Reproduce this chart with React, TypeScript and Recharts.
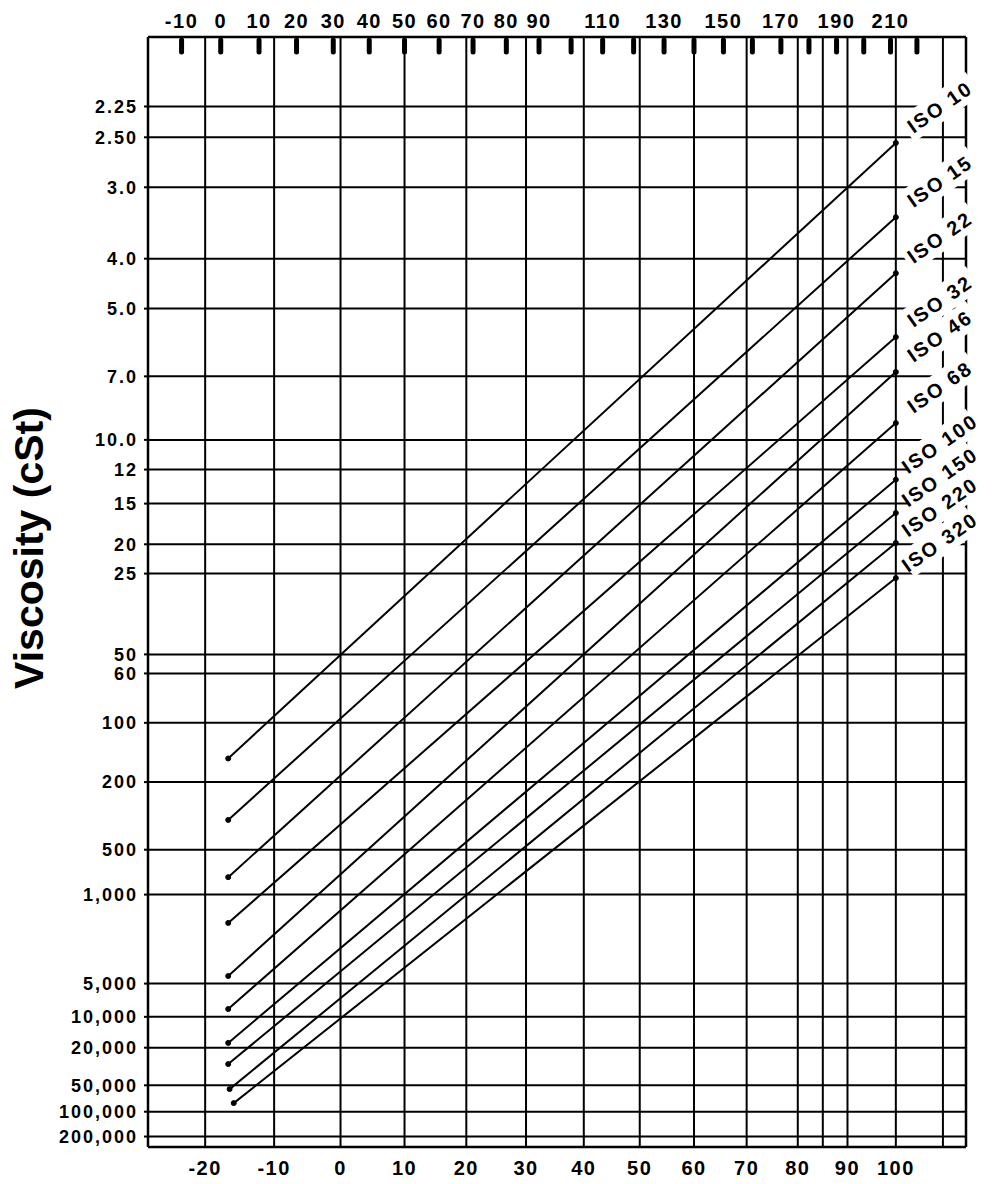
import React from 'react';
import {
  LineChart,
  Line,
  XAxis,
  YAxis,
  CartesianGrid,
  LabelList,
} from 'recharts';

// ASTM D341 viscosity-temperature chart:
// x = log10(T in kelvin), y = log10(log10(cSt + 0.7)), viscosity grows downwards
const toX = (c: number) => Math.log10(c + 273.15);
const toY = (cst: number) => Math.log10(Math.log10(cst + 0.7));
const fToC = (f: number) => ((f - 32) * 5) / 9;

const FONT = "'Liberation Sans', Arial, Helvetica, sans-serif";

const TEMP_RANGE_C = [-28, 115];
const VISC_RANGE = [1.806, 271000];

// bottom axis, deg C (85 and 110 are unlabelled grid lines)
const C_TICKS = [-20, -10, 0, 10, 20, 30, 40, 50, 60, 70, 80, 85, 90, 100, 110];
const C_LABELS = ['-20', '-10', '0', '10', '20', '30', '40', '50', '60', '70', '80', '', '90', '100', ''];

// top axis, deg F
const F_TICKS = [-10, 0, 10, 20, 30, 40, 50, 60, 70, 80, 90, 100, 110, 120, 130, 140, 150, 160, 170, 180, 190, 200, 210, 220];
const F_LABELS = ['-10', '0', '10', '20', '30', '40', '50', '60', '70', '80', '90', '', '110', '', '130', '', '150', '', '170', '', '190', '', '210', ''];

const VISC_TICKS = [2.25, 2.5, 3, 4, 5, 7, 10, 12, 15, 20, 25, 50, 60, 100, 200, 500, 1000, 5000, 10000, 20000, 50000, 100000, 200000];
const VISC_LABELS = ['2.25', '2.50', '3.0', '4.0', '5.0', '7.0', '10.0', '12', '15', '20', '25', '50', '60', '100', '200', '500', '1,000', '5,000', '10,000', '20,000', '50,000', '100,000', '200,000'];

// ISO grades: start point (cold end) and end point at 100 C
const GRADES = ['ISO 10', 'ISO 15', 'ISO 22', 'ISO 32', 'ISO 46', 'ISO 68', 'ISO 100', 'ISO 150', 'ISO 220', 'ISO 320'];
const START_TEMP = [-16.7, -16.7, -16.7, -16.7, -16.7, -16.7, -16.7, -16.7, -16.5, -15.9];
const START_VISC = [150, 328, 757, 1610, 4300, 8460, 17900, 29500, 55100, 79400];
const END_TEMP = [100, 100, 100, 100, 100, 100, 100, 100, 100, 100];
const END_VISC = [2.55, 3.37, 4.26, 5.73, 6.84, 9.06, 12.8, 16.0, 19.8, 25.9];

const xDomain = [toX(TEMP_RANGE_C[0]), toX(TEMP_RANGE_C[1])];
const yDomain = [toY(VISC_RANGE[0]), toY(VISC_RANGE[1])];

const series = GRADES.map((name, i) => ({
  name,
  data: [
    { x: toX(START_TEMP[i]), y: toY(START_VISC[i]) },
    { x: toX(END_TEMP[i]), y: toY(END_VISC[i]) },
  ],
}));

const tickText = {
  fontFamily: FONT,
  fontWeight: 700,
  fontSize: 20,
  fill: '#000',
  letterSpacing: 1.5,
};

const yTickText = { ...tickText, fontSize: 18, letterSpacing: 2 };

function TopTick(props: any) {
  const { x, y, payload, index } = props;
  const i = payload?.index ?? index;
  const label = F_LABELS[i] ?? '';
  return (
    <g>
      {label && (
        <text x={x} y={y - 9} textAnchor="middle" style={tickText}>
          {label}
        </text>
      )}
      <line x1={x} y1={y + 3} x2={x} y2={y + 15} stroke="#000" strokeWidth={5} strokeLinecap="round" />
    </g>
  );
}

function isoLabel(name: string) {
  return (props: any) => {
    if (props.index !== 1) return null;
    const cx = props.x + 44;
    const cy = props.y - 36;
    return (
      <g transform={`rotate(-35 ${cx} ${cy})`}>
        <rect x={cx - 41} y={cy - 14} width={82} height={28} fill="#fff" />
        <text
          x={cx}
          y={cy}
          textAnchor="middle"
          dominantBaseline="central"
          style={{ ...tickText, letterSpacing: 2 }}
        >
          {name}
        </text>
      </g>
    );
  };
}

export default function App() {
  return (
    <div style={{ position: 'absolute', left: 0, top: 0, width: 1004, height: 1184, background: '#fff' }}>
      <LineChart width={1004} height={1184} margin={{ top: 0, right: 0, bottom: 0, left: 0 }}>
        <CartesianGrid stroke="#000" strokeWidth={2} fill="none" />
        <XAxis
          type="number"
          dataKey="x"
          domain={xDomain}
          allowDataOverflow
          ticks={C_TICKS.map(toX)}
          interval={0}
          tickFormatter={(v, i) => C_LABELS[i] ?? ''}
          height={37}
          tickSize={0}
          tickMargin={14}
          tick={tickText}
          axisLine={{ stroke: '#000', strokeWidth: 2.5 }}
        />
        <XAxis
          xAxisId="top"
          orientation="top"
          type="number"
          dataKey="x"
          domain={xDomain}
          allowDataOverflow
          ticks={F_TICKS.map((f) => toX(fToC(f)))}
          interval={0}
          height={37}
          tickSize={0}
          tickMargin={0}
          tick={<TopTick />}
          axisLine={{ stroke: '#000', strokeWidth: 2.5 }}
        />
        <YAxis
          type="number"
          domain={yDomain}
          reversed
          allowDataOverflow
          ticks={VISC_TICKS.map(toY)}
          interval={0}
          tickFormatter={(v, i) => VISC_LABELS[i] ?? ''}
          width={148}
          tickSize={4}
          tickMargin={6}
          tick={yTickText}
          tickLine={{ stroke: '#000', strokeWidth: 2 }}
          axisLine={{ stroke: '#000', strokeWidth: 2.5 }}
          label={{
            content: () => (
              <text
                x={29}
                y={548}
                transform="rotate(-90 29 548)"
                textAnchor="middle"
                dominantBaseline="central"
                style={{ fontFamily: FONT, fontWeight: 700, fontSize: 41, fill: '#000' }}
              >
                Viscosity (cSt)
              </text>
            ),
          }}
        />
        <YAxis
          yAxisId="right"
          orientation="right"
          type="number"
          domain={yDomain}
          reversed
          allowDataOverflow
          width={38}
          tick={false}
          tickLine={false}
          axisLine={{ stroke: '#000', strokeWidth: 2.5 }}
        />
        {series.map((s, i) => (
          <Line
            key={s.name}
            name={s.name}
            data={s.data}
            dataKey="y"
            xAxisId={i === 0 ? 'top' : 0}
            stroke="#000"
            strokeWidth={2}
            dot={{ r: 2.5, fill: '#000', stroke: '#000', strokeWidth: 1 }}
            isAnimationActive={false}
          >
            <LabelList dataKey="y" content={isoLabel(s.name)} />
          </Line>
        ))}
      </LineChart>
    </div>
  );
}
